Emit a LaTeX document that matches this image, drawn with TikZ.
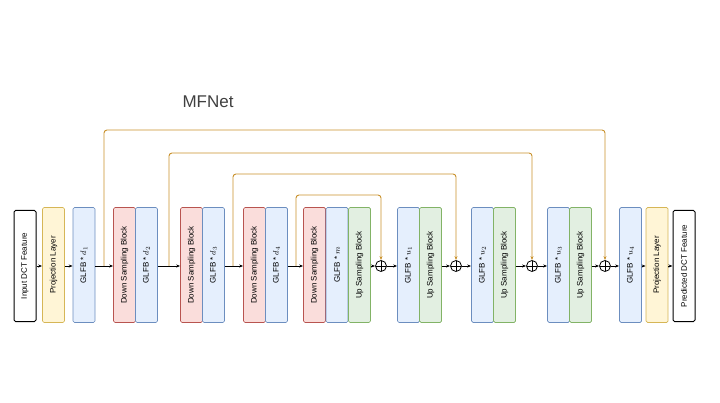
\documentclass[tikz,border=0pt]{standalone}
\usepackage{fontspec}
\setmainfont{Liberation Sans}
\usetikzlibrary{arrows.meta}
\definecolor{rdD}{HTML}{B85450}\definecolor{rdF}{HTML}{F8CECC}
\definecolor{blD}{HTML}{6C8EBF}\definecolor{blF}{HTML}{DAE8FC}
\definecolor{gnD}{HTML}{82B366}\definecolor{gnF}{HTML}{D5E8D4}
\definecolor{ylD}{HTML}{D6B656}\definecolor{ylF}{HTML}{FFF2CC}
\definecolor{skc}{HTML}{C8902A}
\begin{document}
\begin{tikzpicture}[x=1pt,y=-1pt,
 blk/.style={draw,rounded corners=1.5pt,line width=0.7pt,minimum height=115pt,minimum width=22pt,inner sep=0pt,font=\fontsize{8}{9}\selectfont},
 redb/.style={blk,draw=rdD,fill=rdF!70},
 blub/.style={blk,draw=blD,fill=blF!70},
 grnb/.style={blk,draw=gnD,fill=gnF!70},
 yelb/.style={blk,draw=ylD,fill=ylF!80},
 blkb/.style={blk,draw=black,line width=1pt,fill=white,minimum height=111pt},
 arr/.style={-{Stealth[length=4pt]},line width=0.8pt},
 skip/.style={draw=skc,line width=0.9pt,rounded corners=3pt,-{Stealth[length=4pt]}},
 plus/.style={circle,draw,line width=0.8pt,minimum size=11pt,inner sep=0pt,path picture={\draw (path picture bounding box.north)--(path picture bounding box.south) (path picture bounding box.west)--(path picture bounding box.east);}}]
\useasboundingbox (0,0) rectangle (720,403);
\newcommand\rt[1]{\rotatebox{90}{#1}}
\node[font=\fontsize{17}{20}\selectfont,text=black!75] (title) at (208,102) {MFNet};
\node[blkb] (in) at (25,266) {\rt{Input DCT Feature}};
\node[yelb] (p1) at (53.5,265) {\rt{Projection Layer}};
\node[blub] (g1) at (84,265) {\rt{GLFB * $d_1$}};
\node[redb] (ds1) at (124.5,265) {\rt{Down Sampling Block}};
\node[blub] (g2) at (146.5,265) {\rt{GLFB * $d_2$}};
\node[redb] (ds2) at (191.5,265) {\rt{Down Sampling Block}};
\node[blub] (g3) at (213.5,265) {\rt{GLFB * $d_3$}};
\node[redb] (ds3) at (254.5,265) {\rt{Down Sampling Block}};
\node[blub] (g4) at (276.5,265) {\rt{GLFB * $d_4$}};
\node[redb] (ds4) at (314.5,265) {\rt{Down Sampling Block}};
\node[blub] (gm) at (337,265) {\rt{GLFB * $m$}};
\node[grnb] (us1) at (359.5,265) {\rt{Up Sampling Block}};
\node[plus] (a1) at (381,266) {};
\node[blub] (gu1) at (408.5,265) {\rt{GLFB * $u_1$}};
\node[grnb] (us2) at (430.5,265) {\rt{Up Sampling Block}};
\node[plus] (a2) at (456,266) {};
\node[blub] (gu2) at (482.5,265) {\rt{GLFB * $u_2$}};
\node[grnb] (us3) at (504.5,265) {\rt{Up Sampling Block}};
\node[plus] (a3) at (532,266) {};
\node[blub] (gu3) at (558.5,265) {\rt{GLFB * $u_3$}};
\node[grnb] (us4) at (580.5,265) {\rt{Up Sampling Block}};
\node[plus] (a4) at (605,266) {};
\node[blub] (gu4) at (630.5,265) {\rt{GLFB * $u_4$}};
\node[yelb] (p2) at (657,265) {\rt{Projection Layer}};
\node[blkb] (out) at (684,266) {\rt{Predicted DCT Feature}};
\foreach \a/\b in {in/p1,p1/g1,g1/ds1,g2/ds2,g3/ds3,g4/ds4,us1/a1,a1/gu1,us2/a2,a2/gu2,us3/a3,a3/gu3,us4/a4,a4/gu4,gu4/p2,p2/out}
  \draw[arr] (\a.east |- 0,266) -- (\b.west |- 0,266);
\coordinate (s1) at (104,266);
\coordinate (s2) at (169,266);
\coordinate (s3) at (233,266);
\coordinate (s4) at (296,266);
\draw[skip] (s1) -- (104,130) -- (605,130) -- (a4.north);
\draw[skip] (s2) -- (169,153) -- (532,153) -- (a3.north);
\draw[skip] (s3) -- (233,174) -- (456,174) -- (a2.north);
\draw[skip] (s4) -- (296,195) -- (381,195) -- (a1.north);
\end{tikzpicture}
\end{document}
